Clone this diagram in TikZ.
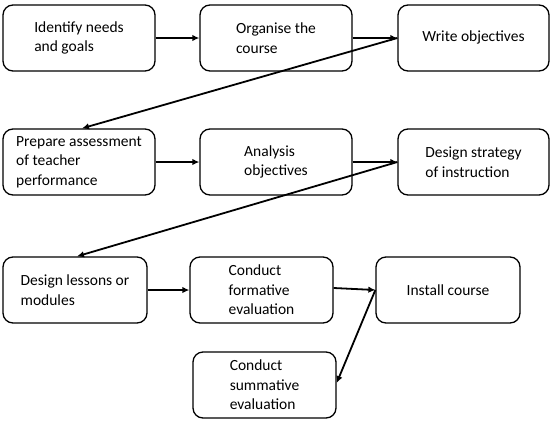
\documentclass[tikz,border=0pt]{standalone}
\usepackage{fontspec}
\setmainfont{Carlito}
\usetikzlibrary{arrows.meta}
\begin{document}
\begin{tikzpicture}[x=1pt,y=-1pt,
  stepbox/.style={draw=black,line width=1.3pt,rounded corners=10pt,align=left,
    font=\fontsize{15.5}{19.5}\selectfont,inner sep=0pt},
  conn/.style={line width=1.8pt,-{Latex[length=7pt,width=6.5pt]}}]
\useasboundingbox (0,0) rectangle (553,423);
\node[stepbox,minimum width=152pt,minimum height=66pt] (a1) at (79,38) {Identify needs\\and goals};
\node[stepbox,minimum width=152pt,minimum height=66pt] (a2) at (276,38) {Organise the\\course};
\node[stepbox,minimum width=151pt,minimum height=66pt] (a3) at (473.5,38) {\raisebox{3pt}{Write objectives}};
\node[stepbox,minimum width=152pt,minimum height=66pt] (b1) at (79,162) {Prepare assessment\\of teacher\\performance};
\node[stepbox,minimum width=152pt,minimum height=66pt] (b2) at (276,162) {Analysis\\objectives};
\node[stepbox,minimum width=151pt,minimum height=66pt] (b3) at (473.5,162) {Design strategy\\of instruction};
\node[stepbox,minimum width=144pt,minimum height=66pt] (c1) at (75,290) {Design lessons or\\modules};
\node[stepbox,minimum width=143pt,minimum height=66pt] (c2) at (261.5,290) {Conduct\\formative\\evaluation};
\node[stepbox,minimum width=144pt,minimum height=66pt] (c3) at (448,290) {Install course};
\node[stepbox,minimum width=143pt,minimum height=66pt] (d) at (264.5,385) {Conduct\\summative\\evaluation};
\draw[conn] (a1.east) -- (a2.west);
\draw[conn] (a2.east) -- (a3.west);
\draw[conn] (a3.west) -- ([xshift=3pt]b1.north);
\draw[conn] (b1.east) -- (b2.west);
\draw[conn] (b2.east) -- (b3.west);
\draw[conn] (b3.west) -- ([xshift=2pt]c1.north);
\draw[conn] (c1.east) -- (c2.west);
\draw[conn] ([yshift=2pt]c2.east) -- (c3.west);
\draw[conn] (c3.west) -- ([yshift=2pt]d.east);
\end{tikzpicture}
\end{document}
